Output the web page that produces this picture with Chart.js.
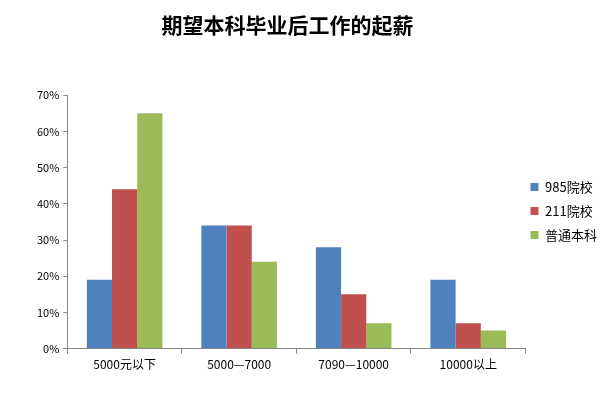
<!DOCTYPE html>
<html>
<head>
<meta charset="utf-8">
<script src="https://cdn.jsdelivr.net/npm/chart.js@4"></script>
<style>
  html, body { margin: 0; padding: 0; background: #fff; }
  #wrap { width: 613px; height: 395px; }
</style>
</head>
<body>
<div id="wrap"><canvas id="salaryChart" width="613" height="395"></canvas></div>
<script>
const categories = ['5000元以下', '5000—7000', '7090—10000', '10000以上'];
const seriesNames = ['985院校', '211院校', '普通本科'];
const school985 = [19, 34, 28, 19];
const school211 = [44, 34, 15, 7];
const regular = [65, 24, 7, 5];
const yTicks = [0, 10, 20, 30, 40, 50, 60, 70];

const colors = ['#4F81BD', '#C0504D', '#9BBB59'];
const fontFamily = '"Noto Sans CJK SC", "DejaVu Sans", sans-serif';

const ctx = document.getElementById('salaryChart').getContext('2d');

const data = {
    labels: categories,
    datasets: [school985, school211, regular].map((values, i) => ({
        label: seriesNames[i],
        data: values,
        backgroundColor: colors[i],
        borderWidth: 0,
        categoryPercentage: 0.66,
        barPercentage: 1
    }))
};

// nudge legend and title a little, like the original
const boxNudge = {
    id: 'boxNudge',
    afterLayout(chart) {
        const lg = chart.legend;
        if (lg) {
            lg.top -= 11;
            lg.bottom -= 11;
            lg.left -= 6;
            lg.right -= 6;
        }
        const tt = chart.titleBlock;
        if (tt) {
            tt.left -= 9;
            tt.right -= 9;
        }
    }
};

const config = {
    type: 'bar',
    data: data,
    plugins: [boxNudge],
    options: {
        responsive: false,
        animation: false,
        layout: { padding: { left: 33, right: 0, top: 0, bottom: 19 } },
        plugins: {
            title: {
                display: true,
                fullSize: false,
                text: '期望本科毕业后工作的起薪',
                color: '#000',
                font: { family: fontFamily, size: 21, weight: 'bold' },
                padding: { top: 12, bottom: 58 }
            },
            legend: {
                position: 'right',
                fullSize: false,
                labels: {
                    boxWidth: 8,
                    boxHeight: 8,
                    padding: 11,
                    color: '#000',
                    font: { family: fontFamily, size: 13 }
                }
            },
            tooltip: { enabled: false }
        },
        scales: {
            x: {
                grid: {
                    display: true,
                    offset: true,
                    drawOnChartArea: false,
                    tickLength: 5,
                    color: '#888'
                },
                border: { color: '#888' },
                ticks: {
                    color: '#000',
                    padding: 4,
                    font: { family: fontFamily, size: 12 }
                }
            },
            y: {
                min: 0,
                max: 70,
                afterBuildTicks: axis => { axis.ticks = yTicks.map(v => ({ value: v })); },
                grid: {
                    display: true,
                    drawOnChartArea: false,
                    tickLength: 4,
                    color: '#888'
                },
                border: { color: '#888' },
                ticks: {
                    color: '#000',
                    padding: 4,
                    font: { family: fontFamily, size: 11 },
                    callback: v => v + '%'
                }
            }
        }
    }
};

window.salaryChart = new Chart(ctx, config);
</script>
</body>
</html>
